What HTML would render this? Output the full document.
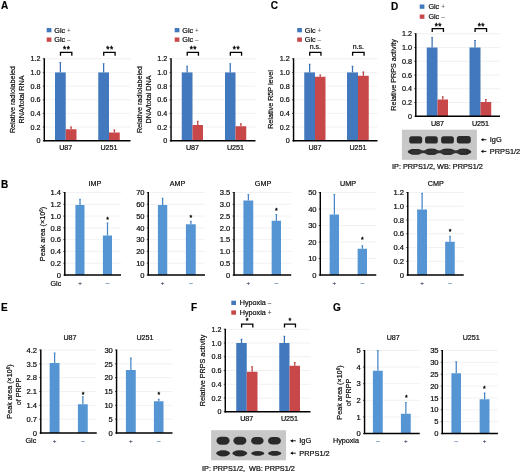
<!DOCTYPE html>
<html><head><meta charset="utf-8"><title>Figure</title>
<style>
html,body{margin:0;padding:0;background:#fff;}
svg{display:block;font-family:"Liberation Sans",sans-serif;}
</style></head><body>
<svg width="520" height="473" viewBox="0 0 520 473">
<defs><filter id="soft" x="0" y="0" width="100%" height="100%"><feGaussianBlur stdDeviation="0.32"/></filter><filter id="bl" x="-5%" y="-20%" width="110%" height="140%"><feGaussianBlur stdDeviation="0.55"/></filter></defs>
<rect width="520" height="473" fill="#fff"/>
<g filter="url(#soft)">
<text x="1" y="9.3" font-size="10" text-anchor="start" font-weight="bold" fill="#000" stroke="#000" stroke-width="0.18">A</text>
<text x="270.8" y="9.3" font-size="10" text-anchor="start" font-weight="bold" fill="#000" stroke="#000" stroke-width="0.18">C</text>
<text x="391" y="9.8" font-size="10" text-anchor="start" font-weight="bold" fill="#000" stroke="#000" stroke-width="0.18">D</text>
<text x="1" y="187.6" font-size="10" text-anchor="start" font-weight="bold" fill="#000" stroke="#000" stroke-width="0.18">B</text>
<text x="1" y="311.4" font-size="10" text-anchor="start" font-weight="bold" fill="#000" stroke="#000" stroke-width="0.18">E</text>
<text x="191" y="310.8" font-size="10" text-anchor="start" font-weight="bold" fill="#000" stroke="#000" stroke-width="0.18">F</text>
<text x="333" y="311.2" font-size="10" text-anchor="start" font-weight="bold" fill="#000" stroke="#000" stroke-width="0.18">G</text>
<rect x="46.70" y="28.00" width="4.70" height="4.30" fill="#4279be"/>
<rect x="46.70" y="37.50" width="4.70" height="4.30" fill="#c8474a"/>
<text x="54.3" y="32.6" font-size="7.2" text-anchor="start" font-weight="normal" fill="#0a0a0a" stroke="#0a0a0a" stroke-width="0.18">Glc <tspan fill="#555" stroke="none" font-size="6.4">+</tspan></text>
<text x="54.3" y="42.1" font-size="7.2" text-anchor="start" font-weight="normal" fill="#0a0a0a" stroke="#0a0a0a" stroke-width="0.18">Glc <tspan fill="#555" stroke="none" font-size="6.4">–</tspan></text>
<line x1="42.80" y1="140.75" x2="44.00" y2="140.75" stroke="#000" stroke-width="0.7"/>
<text x="40.6" y="143.3" font-size="7.2" text-anchor="end" font-weight="normal" fill="#0a0a0a" stroke="#0a0a0a" stroke-width="0.18">0</text>
<line x1="44.00" y1="127.08" x2="130.50" y2="127.08" stroke="#ededed" stroke-width="0.8"/>
<line x1="42.80" y1="127.08" x2="44.00" y2="127.08" stroke="#000" stroke-width="0.7"/>
<text x="40.6" y="129.63333333333333" font-size="7.2" text-anchor="end" font-weight="normal" fill="#0a0a0a" stroke="#0a0a0a" stroke-width="0.18">0.2</text>
<line x1="44.00" y1="113.42" x2="130.50" y2="113.42" stroke="#ededed" stroke-width="0.8"/>
<line x1="42.80" y1="113.42" x2="44.00" y2="113.42" stroke="#000" stroke-width="0.7"/>
<text x="40.6" y="115.96666666666667" font-size="7.2" text-anchor="end" font-weight="normal" fill="#0a0a0a" stroke="#0a0a0a" stroke-width="0.18">0.4</text>
<line x1="44.00" y1="99.75" x2="130.50" y2="99.75" stroke="#ededed" stroke-width="0.8"/>
<line x1="42.80" y1="99.75" x2="44.00" y2="99.75" stroke="#000" stroke-width="0.7"/>
<text x="40.6" y="102.3" font-size="7.2" text-anchor="end" font-weight="normal" fill="#0a0a0a" stroke="#0a0a0a" stroke-width="0.18">0.6</text>
<line x1="44.00" y1="86.08" x2="130.50" y2="86.08" stroke="#ededed" stroke-width="0.8"/>
<line x1="42.80" y1="86.08" x2="44.00" y2="86.08" stroke="#000" stroke-width="0.7"/>
<text x="40.6" y="88.63333333333334" font-size="7.2" text-anchor="end" font-weight="normal" fill="#0a0a0a" stroke="#0a0a0a" stroke-width="0.18">0.8</text>
<line x1="44.00" y1="72.42" x2="130.50" y2="72.42" stroke="#ededed" stroke-width="0.8"/>
<line x1="42.80" y1="72.42" x2="44.00" y2="72.42" stroke="#000" stroke-width="0.7"/>
<text x="40.6" y="74.96666666666667" font-size="7.2" text-anchor="end" font-weight="normal" fill="#0a0a0a" stroke="#0a0a0a" stroke-width="0.18">1.0</text>
<line x1="44.00" y1="58.75" x2="130.50" y2="58.75" stroke="#ededed" stroke-width="0.8"/>
<line x1="42.80" y1="58.75" x2="44.00" y2="58.75" stroke="#000" stroke-width="0.7"/>
<text x="40.6" y="61.3" font-size="7.2" text-anchor="end" font-weight="normal" fill="#0a0a0a" stroke="#0a0a0a" stroke-width="0.18">1.2</text>
<line x1="60.38" y1="72.42" x2="60.38" y2="62.20" stroke="#3a6fb4" stroke-width="1.25"/>
<line x1="59.48" y1="62.50" x2="61.27" y2="62.50" stroke="#3a6fb4" stroke-width="0.8"/>
<line x1="71.12" y1="129.25" x2="71.12" y2="126.70" stroke="#b93c40" stroke-width="1.25"/>
<line x1="70.22" y1="127.00" x2="72.03" y2="127.00" stroke="#b93c40" stroke-width="0.8"/>
<rect x="55.00" y="72.42" width="10.75" height="68.33" fill="#4279be"/>
<rect x="65.75" y="129.25" width="10.75" height="11.50" fill="#c8474a"/>
<path d="M60.48 55.70V52.40H71.83V55.70" fill="none" stroke="#000" stroke-width="1.3"/>
<text x="66.65" y="52.3" font-size="8.2" text-anchor="middle" font-weight="normal" fill="#000" stroke="#000" stroke-width="0.35" letter-spacing="0.4">**</text>
<text x="65.75" y="150.2" font-size="7.2" text-anchor="middle" font-weight="normal" fill="#0a0a0a" stroke="#0a0a0a" stroke-width="0.18">U87</text>
<line x1="103.62" y1="72.42" x2="103.62" y2="63.45" stroke="#3a6fb4" stroke-width="1.25"/>
<line x1="102.72" y1="63.75" x2="104.53" y2="63.75" stroke="#3a6fb4" stroke-width="0.8"/>
<line x1="114.38" y1="132.50" x2="114.38" y2="129.70" stroke="#b93c40" stroke-width="1.25"/>
<line x1="113.47" y1="130.00" x2="115.28" y2="130.00" stroke="#b93c40" stroke-width="0.8"/>
<rect x="98.25" y="72.42" width="10.75" height="68.33" fill="#4279be"/>
<rect x="109.00" y="132.50" width="10.75" height="8.25" fill="#c8474a"/>
<path d="M103.72 55.70V52.40H115.08V55.70" fill="none" stroke="#000" stroke-width="1.3"/>
<text x="109.9" y="52.3" font-size="8.2" text-anchor="middle" font-weight="normal" fill="#000" stroke="#000" stroke-width="0.35" letter-spacing="0.4">**</text>
<text x="109" y="150.2" font-size="7.2" text-anchor="middle" font-weight="normal" fill="#0a0a0a" stroke="#0a0a0a" stroke-width="0.18">U251</text>
<line x1="44.30" y1="58.25" x2="44.30" y2="141.45" stroke="#000" stroke-width="1.45"/>
<line x1="43.60" y1="140.75" x2="130.50" y2="140.75" stroke="#000" stroke-width="1.4"/>
<text x="15.1" y="99.5" font-size="7.2" text-anchor="middle" font-weight="normal" fill="#0a0a0a" stroke="#0a0a0a" stroke-width="0.18" transform="rotate(-90 15.1 99.5)">Relative radiolabeled</text>
<text x="24.0" y="99.5" font-size="7.2" text-anchor="middle" font-weight="normal" fill="#0a0a0a" stroke="#0a0a0a" stroke-width="0.18" transform="rotate(-90 24.0 99.5)">RNA/total RNA</text>
<rect x="174.70" y="28.00" width="4.70" height="4.30" fill="#4279be"/>
<rect x="174.70" y="37.50" width="4.70" height="4.30" fill="#c8474a"/>
<text x="182.3" y="32.6" font-size="7.2" text-anchor="start" font-weight="normal" fill="#0a0a0a" stroke="#0a0a0a" stroke-width="0.18">Glc <tspan fill="#555" stroke="none" font-size="6.4">+</tspan></text>
<text x="182.3" y="42.1" font-size="7.2" text-anchor="start" font-weight="normal" fill="#0a0a0a" stroke="#0a0a0a" stroke-width="0.18">Glc <tspan fill="#555" stroke="none" font-size="6.4">–</tspan></text>
<line x1="169.55" y1="140.75" x2="170.75" y2="140.75" stroke="#000" stroke-width="0.7"/>
<text x="167.35" y="143.3" font-size="7.2" text-anchor="end" font-weight="normal" fill="#0a0a0a" stroke="#0a0a0a" stroke-width="0.18">0</text>
<line x1="170.75" y1="127.08" x2="255.50" y2="127.08" stroke="#ededed" stroke-width="0.8"/>
<line x1="169.55" y1="127.08" x2="170.75" y2="127.08" stroke="#000" stroke-width="0.7"/>
<text x="167.35" y="129.63333333333333" font-size="7.2" text-anchor="end" font-weight="normal" fill="#0a0a0a" stroke="#0a0a0a" stroke-width="0.18">0.2</text>
<line x1="170.75" y1="113.42" x2="255.50" y2="113.42" stroke="#ededed" stroke-width="0.8"/>
<line x1="169.55" y1="113.42" x2="170.75" y2="113.42" stroke="#000" stroke-width="0.7"/>
<text x="167.35" y="115.96666666666667" font-size="7.2" text-anchor="end" font-weight="normal" fill="#0a0a0a" stroke="#0a0a0a" stroke-width="0.18">0.4</text>
<line x1="170.75" y1="99.75" x2="255.50" y2="99.75" stroke="#ededed" stroke-width="0.8"/>
<line x1="169.55" y1="99.75" x2="170.75" y2="99.75" stroke="#000" stroke-width="0.7"/>
<text x="167.35" y="102.3" font-size="7.2" text-anchor="end" font-weight="normal" fill="#0a0a0a" stroke="#0a0a0a" stroke-width="0.18">0.6</text>
<line x1="170.75" y1="86.08" x2="255.50" y2="86.08" stroke="#ededed" stroke-width="0.8"/>
<line x1="169.55" y1="86.08" x2="170.75" y2="86.08" stroke="#000" stroke-width="0.7"/>
<text x="167.35" y="88.63333333333334" font-size="7.2" text-anchor="end" font-weight="normal" fill="#0a0a0a" stroke="#0a0a0a" stroke-width="0.18">0.8</text>
<line x1="170.75" y1="72.42" x2="255.50" y2="72.42" stroke="#ededed" stroke-width="0.8"/>
<line x1="169.55" y1="72.42" x2="170.75" y2="72.42" stroke="#000" stroke-width="0.7"/>
<text x="167.35" y="74.96666666666667" font-size="7.2" text-anchor="end" font-weight="normal" fill="#0a0a0a" stroke="#0a0a0a" stroke-width="0.18">1.0</text>
<line x1="170.75" y1="58.75" x2="255.50" y2="58.75" stroke="#ededed" stroke-width="0.8"/>
<line x1="169.55" y1="58.75" x2="170.75" y2="58.75" stroke="#000" stroke-width="0.7"/>
<text x="167.35" y="61.3" font-size="7.2" text-anchor="end" font-weight="normal" fill="#0a0a0a" stroke="#0a0a0a" stroke-width="0.18">1.2</text>
<line x1="187.12" y1="72.42" x2="187.12" y2="65.95" stroke="#3a6fb4" stroke-width="1.25"/>
<line x1="186.22" y1="66.25" x2="188.03" y2="66.25" stroke="#3a6fb4" stroke-width="0.8"/>
<line x1="197.75" y1="125.00" x2="197.75" y2="120.95" stroke="#b93c40" stroke-width="1.25"/>
<line x1="196.85" y1="121.25" x2="198.65" y2="121.25" stroke="#b93c40" stroke-width="0.8"/>
<rect x="181.75" y="72.42" width="10.75" height="68.33" fill="#4279be"/>
<rect x="192.50" y="125.00" width="10.50" height="15.75" fill="#c8474a"/>
<path d="M187.22 55.70V52.40H198.45V55.70" fill="none" stroke="#000" stroke-width="1.3"/>
<text x="193.33749999999998" y="52.3" font-size="8.2" text-anchor="middle" font-weight="normal" fill="#000" stroke="#000" stroke-width="0.35" letter-spacing="0.4">**</text>
<text x="192.5" y="150.2" font-size="7.2" text-anchor="middle" font-weight="normal" fill="#0a0a0a" stroke="#0a0a0a" stroke-width="0.18">U87</text>
<line x1="230.25" y1="72.42" x2="230.25" y2="63.45" stroke="#3a6fb4" stroke-width="1.25"/>
<line x1="229.35" y1="63.75" x2="231.15" y2="63.75" stroke="#3a6fb4" stroke-width="0.8"/>
<line x1="240.88" y1="126.25" x2="240.88" y2="123.45" stroke="#b93c40" stroke-width="1.25"/>
<line x1="239.97" y1="123.75" x2="241.78" y2="123.75" stroke="#b93c40" stroke-width="0.8"/>
<rect x="225.00" y="72.42" width="10.50" height="68.33" fill="#4279be"/>
<rect x="235.50" y="126.25" width="10.75" height="14.50" fill="#c8474a"/>
<path d="M230.35 55.70V52.40H241.57V55.70" fill="none" stroke="#000" stroke-width="1.3"/>
<text x="236.46249999999998" y="52.3" font-size="8.2" text-anchor="middle" font-weight="normal" fill="#000" stroke="#000" stroke-width="0.35" letter-spacing="0.4">**</text>
<text x="235.5" y="150.2" font-size="7.2" text-anchor="middle" font-weight="normal" fill="#0a0a0a" stroke="#0a0a0a" stroke-width="0.18">U251</text>
<line x1="171.05" y1="58.25" x2="171.05" y2="141.45" stroke="#000" stroke-width="1.45"/>
<line x1="170.35" y1="140.75" x2="255.50" y2="140.75" stroke="#000" stroke-width="1.4"/>
<text x="142.2" y="99.5" font-size="7.2" text-anchor="middle" font-weight="normal" fill="#0a0a0a" stroke="#0a0a0a" stroke-width="0.18" transform="rotate(-90 142.2 99.5)">Relative radiolabeled</text>
<text x="151.2" y="99.5" font-size="7.2" text-anchor="middle" font-weight="normal" fill="#0a0a0a" stroke="#0a0a0a" stroke-width="0.18" transform="rotate(-90 151.2 99.5)">DNA/total DNA</text>
<rect x="297.20" y="28.00" width="4.70" height="4.30" fill="#4279be"/>
<rect x="297.20" y="37.50" width="4.70" height="4.30" fill="#c8474a"/>
<text x="304.8" y="32.6" font-size="7.2" text-anchor="start" font-weight="normal" fill="#0a0a0a" stroke="#0a0a0a" stroke-width="0.18">Glc <tspan fill="#555" stroke="none" font-size="6.4">+</tspan></text>
<text x="304.8" y="42.1" font-size="7.2" text-anchor="start" font-weight="normal" fill="#0a0a0a" stroke="#0a0a0a" stroke-width="0.18">Glc <tspan fill="#555" stroke="none" font-size="6.4">–</tspan></text>
<line x1="292.05" y1="140.75" x2="293.25" y2="140.75" stroke="#000" stroke-width="0.7"/>
<text x="289.85" y="143.3" font-size="7.2" text-anchor="end" font-weight="normal" fill="#0a0a0a" stroke="#0a0a0a" stroke-width="0.18">0</text>
<line x1="293.25" y1="127.08" x2="377.50" y2="127.08" stroke="#ededed" stroke-width="0.8"/>
<line x1="292.05" y1="127.08" x2="293.25" y2="127.08" stroke="#000" stroke-width="0.7"/>
<text x="289.85" y="129.63333333333333" font-size="7.2" text-anchor="end" font-weight="normal" fill="#0a0a0a" stroke="#0a0a0a" stroke-width="0.18">0.2</text>
<line x1="293.25" y1="113.42" x2="377.50" y2="113.42" stroke="#ededed" stroke-width="0.8"/>
<line x1="292.05" y1="113.42" x2="293.25" y2="113.42" stroke="#000" stroke-width="0.7"/>
<text x="289.85" y="115.96666666666667" font-size="7.2" text-anchor="end" font-weight="normal" fill="#0a0a0a" stroke="#0a0a0a" stroke-width="0.18">0.4</text>
<line x1="293.25" y1="99.75" x2="377.50" y2="99.75" stroke="#ededed" stroke-width="0.8"/>
<line x1="292.05" y1="99.75" x2="293.25" y2="99.75" stroke="#000" stroke-width="0.7"/>
<text x="289.85" y="102.3" font-size="7.2" text-anchor="end" font-weight="normal" fill="#0a0a0a" stroke="#0a0a0a" stroke-width="0.18">0.6</text>
<line x1="293.25" y1="86.08" x2="377.50" y2="86.08" stroke="#ededed" stroke-width="0.8"/>
<line x1="292.05" y1="86.08" x2="293.25" y2="86.08" stroke="#000" stroke-width="0.7"/>
<text x="289.85" y="88.63333333333334" font-size="7.2" text-anchor="end" font-weight="normal" fill="#0a0a0a" stroke="#0a0a0a" stroke-width="0.18">0.8</text>
<line x1="293.25" y1="72.42" x2="377.50" y2="72.42" stroke="#ededed" stroke-width="0.8"/>
<line x1="292.05" y1="72.42" x2="293.25" y2="72.42" stroke="#000" stroke-width="0.7"/>
<text x="289.85" y="74.96666666666667" font-size="7.2" text-anchor="end" font-weight="normal" fill="#0a0a0a" stroke="#0a0a0a" stroke-width="0.18">1.0</text>
<line x1="293.25" y1="58.75" x2="377.50" y2="58.75" stroke="#ededed" stroke-width="0.8"/>
<line x1="292.05" y1="58.75" x2="293.25" y2="58.75" stroke="#000" stroke-width="0.7"/>
<text x="289.85" y="61.3" font-size="7.2" text-anchor="end" font-weight="normal" fill="#0a0a0a" stroke="#0a0a0a" stroke-width="0.18">1.2</text>
<line x1="309.62" y1="72.42" x2="309.62" y2="63.95" stroke="#3a6fb4" stroke-width="1.25"/>
<line x1="308.73" y1="64.25" x2="310.52" y2="64.25" stroke="#3a6fb4" stroke-width="0.8"/>
<line x1="320.25" y1="76.75" x2="320.25" y2="74.70" stroke="#b93c40" stroke-width="1.25"/>
<line x1="319.35" y1="75.00" x2="321.15" y2="75.00" stroke="#b93c40" stroke-width="0.8"/>
<rect x="304.25" y="72.42" width="10.75" height="68.33" fill="#4279be"/>
<rect x="315.00" y="76.75" width="10.50" height="64.00" fill="#c8474a"/>
<path d="M309.73 55.70V52.40H320.95V55.70" fill="none" stroke="#000" stroke-width="1.3"/>
<text x="315.3375" y="49.2" font-size="7" text-anchor="middle" font-weight="normal" fill="#000" stroke="#000" stroke-width="0.18">n.s.</text>
<text x="315" y="150.2" font-size="7.2" text-anchor="middle" font-weight="normal" fill="#0a0a0a" stroke="#0a0a0a" stroke-width="0.18">U87</text>
<line x1="352.50" y1="72.42" x2="352.50" y2="65.95" stroke="#3a6fb4" stroke-width="1.25"/>
<line x1="351.60" y1="66.25" x2="353.40" y2="66.25" stroke="#3a6fb4" stroke-width="0.8"/>
<line x1="363.38" y1="75.75" x2="363.38" y2="71.70" stroke="#b93c40" stroke-width="1.25"/>
<line x1="362.48" y1="72.00" x2="364.27" y2="72.00" stroke="#b93c40" stroke-width="0.8"/>
<rect x="347.00" y="72.42" width="11.00" height="68.33" fill="#4279be"/>
<rect x="358.00" y="75.75" width="10.75" height="65.00" fill="#c8474a"/>
<path d="M352.60 55.70V52.40H364.07V55.70" fill="none" stroke="#000" stroke-width="1.3"/>
<text x="358.3375" y="49.2" font-size="7" text-anchor="middle" font-weight="normal" fill="#000" stroke="#000" stroke-width="0.18">n.s.</text>
<text x="358" y="150.2" font-size="7.2" text-anchor="middle" font-weight="normal" fill="#0a0a0a" stroke="#0a0a0a" stroke-width="0.18">U251</text>
<line x1="293.55" y1="58.25" x2="293.55" y2="141.45" stroke="#000" stroke-width="1.45"/>
<line x1="292.85" y1="140.75" x2="377.50" y2="140.75" stroke="#000" stroke-width="1.4"/>
<text x="273.3" y="99.5" font-size="7.2" text-anchor="middle" font-weight="normal" fill="#0a0a0a" stroke="#0a0a0a" stroke-width="0.18" transform="rotate(-90 273.3 99.5)">Relative R5P level</text>
<rect x="419.70" y="4.50" width="4.70" height="4.30" fill="#4279be"/>
<rect x="419.70" y="14.50" width="4.70" height="4.30" fill="#c8474a"/>
<text x="428.4" y="9.1" font-size="7.2" text-anchor="start" font-weight="normal" fill="#0a0a0a" stroke="#0a0a0a" stroke-width="0.18">Glc <tspan fill="#555" stroke="none" font-size="6.4">+</tspan></text>
<text x="428.4" y="19.1" font-size="7.2" text-anchor="start" font-weight="normal" fill="#0a0a0a" stroke="#0a0a0a" stroke-width="0.18">Glc <tspan fill="#555" stroke="none" font-size="6.4">–</tspan></text>
<line x1="414.30" y1="116.25" x2="415.50" y2="116.25" stroke="#000" stroke-width="0.7"/>
<text x="412.1" y="118.8" font-size="7.2" text-anchor="end" font-weight="normal" fill="#0a0a0a" stroke="#0a0a0a" stroke-width="0.18">0</text>
<line x1="415.50" y1="102.50" x2="500.00" y2="102.50" stroke="#ededed" stroke-width="0.8"/>
<line x1="414.30" y1="102.50" x2="415.50" y2="102.50" stroke="#000" stroke-width="0.7"/>
<text x="412.1" y="105.05" font-size="7.2" text-anchor="end" font-weight="normal" fill="#0a0a0a" stroke="#0a0a0a" stroke-width="0.18">0.2</text>
<line x1="415.50" y1="88.75" x2="500.00" y2="88.75" stroke="#ededed" stroke-width="0.8"/>
<line x1="414.30" y1="88.75" x2="415.50" y2="88.75" stroke="#000" stroke-width="0.7"/>
<text x="412.1" y="91.3" font-size="7.2" text-anchor="end" font-weight="normal" fill="#0a0a0a" stroke="#0a0a0a" stroke-width="0.18">0.4</text>
<line x1="415.50" y1="75.00" x2="500.00" y2="75.00" stroke="#ededed" stroke-width="0.8"/>
<line x1="414.30" y1="75.00" x2="415.50" y2="75.00" stroke="#000" stroke-width="0.7"/>
<text x="412.1" y="77.55" font-size="7.2" text-anchor="end" font-weight="normal" fill="#0a0a0a" stroke="#0a0a0a" stroke-width="0.18">0.6</text>
<line x1="415.50" y1="61.25" x2="500.00" y2="61.25" stroke="#ededed" stroke-width="0.8"/>
<line x1="414.30" y1="61.25" x2="415.50" y2="61.25" stroke="#000" stroke-width="0.7"/>
<text x="412.1" y="63.8" font-size="7.2" text-anchor="end" font-weight="normal" fill="#0a0a0a" stroke="#0a0a0a" stroke-width="0.18">0.8</text>
<line x1="415.50" y1="47.50" x2="500.00" y2="47.50" stroke="#ededed" stroke-width="0.8"/>
<line x1="414.30" y1="47.50" x2="415.50" y2="47.50" stroke="#000" stroke-width="0.7"/>
<text x="412.1" y="50.05" font-size="7.2" text-anchor="end" font-weight="normal" fill="#0a0a0a" stroke="#0a0a0a" stroke-width="0.18">1.0</text>
<line x1="415.50" y1="33.75" x2="500.00" y2="33.75" stroke="#ededed" stroke-width="0.8"/>
<line x1="414.30" y1="33.75" x2="415.50" y2="33.75" stroke="#000" stroke-width="0.7"/>
<text x="412.1" y="36.3" font-size="7.2" text-anchor="end" font-weight="normal" fill="#0a0a0a" stroke="#0a0a0a" stroke-width="0.18">1.2</text>
<line x1="432.12" y1="47.50" x2="432.12" y2="37.20" stroke="#3a6fb4" stroke-width="1.25"/>
<line x1="431.23" y1="37.50" x2="433.02" y2="37.50" stroke="#3a6fb4" stroke-width="0.8"/>
<line x1="442.75" y1="99.50" x2="442.75" y2="96.45" stroke="#b93c40" stroke-width="1.25"/>
<line x1="441.85" y1="96.75" x2="443.65" y2="96.75" stroke="#b93c40" stroke-width="0.8"/>
<rect x="426.75" y="47.50" width="10.75" height="68.75" fill="#4279be"/>
<rect x="437.50" y="99.50" width="10.50" height="16.75" fill="#c8474a"/>
<path d="M432.23 31.90V28.60H443.45V31.90" fill="none" stroke="#000" stroke-width="1.3"/>
<text x="438.3375" y="28.5" font-size="8.2" text-anchor="middle" font-weight="normal" fill="#000" stroke="#000" stroke-width="0.35" letter-spacing="0.4">**</text>
<text x="437.5" y="126" font-size="7.2" text-anchor="middle" font-weight="normal" fill="#0a0a0a" stroke="#0a0a0a" stroke-width="0.18">U87</text>
<line x1="475.00" y1="47.50" x2="475.00" y2="40.20" stroke="#3a6fb4" stroke-width="1.25"/>
<line x1="474.10" y1="40.50" x2="475.90" y2="40.50" stroke="#3a6fb4" stroke-width="0.8"/>
<line x1="485.88" y1="102.00" x2="485.88" y2="99.20" stroke="#b93c40" stroke-width="1.25"/>
<line x1="484.98" y1="99.50" x2="486.77" y2="99.50" stroke="#b93c40" stroke-width="0.8"/>
<rect x="469.50" y="47.50" width="11.00" height="68.75" fill="#4279be"/>
<rect x="480.50" y="102.00" width="10.75" height="14.25" fill="#c8474a"/>
<path d="M475.10 31.90V28.60H486.57V31.90" fill="none" stroke="#000" stroke-width="1.3"/>
<text x="481.3375" y="28.5" font-size="8.2" text-anchor="middle" font-weight="normal" fill="#000" stroke="#000" stroke-width="0.35" letter-spacing="0.4">**</text>
<text x="480.5" y="126" font-size="7.2" text-anchor="middle" font-weight="normal" fill="#0a0a0a" stroke="#0a0a0a" stroke-width="0.18">U251</text>
<line x1="415.80" y1="33.25" x2="415.80" y2="116.95" stroke="#000" stroke-width="1.45"/>
<line x1="415.10" y1="116.25" x2="500.00" y2="116.25" stroke="#000" stroke-width="1.4"/>
<text x="396" y="75" font-size="7.2" text-anchor="middle" font-weight="normal" fill="#0a0a0a" stroke="#0a0a0a" stroke-width="0.18" transform="rotate(-90 396 75)">Relative PRPS activity</text>
<rect x="401.90" y="129.70" width="75.00" height="30.10" fill="#c8c8c8"/>
<g filter="url(#bl)">
<rect x="409.20" y="136.20" width="13.00" height="7.40" rx="2.6" ry="2.60" fill="#2b2b2b"/>
<rect x="425.00" y="136.20" width="12.80" height="7.40" rx="2.6" ry="2.60" fill="#2b2b2b"/>
<rect x="441.10" y="136.20" width="12.80" height="7.40" rx="2.6" ry="2.60" fill="#2b2b2b"/>
<rect x="456.80" y="136.00" width="14.00" height="7.40" rx="2.6" ry="2.60" fill="#2b2b2b"/>
<ellipse cx="415.30" cy="151.75" rx="7.60" ry="2.85" fill="#2b2b2b"/>
<rect x="410.20" y="148.90" width="10.20" height="5.70" rx="2" ry="2" fill="#2b2b2b"/>
<ellipse cx="431.30" cy="151.75" rx="7.70" ry="2.95" fill="#2b2b2b"/>
<rect x="426.10" y="148.80" width="10.40" height="5.90" rx="2" ry="2" fill="#2b2b2b"/>
<ellipse cx="447.50" cy="151.75" rx="7.70" ry="3.05" fill="#2b2b2b"/>
<rect x="442.30" y="148.70" width="10.40" height="6.10" rx="2" ry="2" fill="#2b2b2b"/>
<ellipse cx="463.65" cy="151.75" rx="7.65" ry="2.95" fill="#2b2b2b"/>
<rect x="458.50" y="148.80" width="10.30" height="5.90" rx="2" ry="2" fill="#2b2b2b"/>
<rect x="412.00" y="150.40" width="55.00" height="2.80" fill="#333"/>
</g>
<line x1="482.30" y1="139.70" x2="486.40" y2="139.70" stroke="#000" stroke-width="0.9"/>
<path d="M480.80 139.70l2.6 -1.6v3.2z" fill="#000"/>
<text x="489.8" y="142.29999999999998" font-size="7.4" text-anchor="start" font-weight="normal" fill="#0a0a0a" stroke="#0a0a0a" stroke-width="0.18">IgG</text>
<line x1="482.30" y1="151.40" x2="486.40" y2="151.40" stroke="#000" stroke-width="0.9"/>
<path d="M480.80 151.40l2.6 -1.6v3.2z" fill="#000"/>
<text x="489.8" y="154.0" font-size="7.4" text-anchor="start" font-weight="normal" fill="#0a0a0a" stroke="#0a0a0a" stroke-width="0.18">PRPS1/2</text>
<text x="392" y="169.3" font-size="7.3" text-anchor="start" font-weight="normal" fill="#0a0a0a" stroke="#0a0a0a" stroke-width="0.18">IP: PRPS1/2, WB: PRPS1/2</text>
<line x1="63.30" y1="275.00" x2="64.50" y2="275.00" stroke="#000" stroke-width="0.7"/>
<text x="61.1" y="277.69166666666666" font-size="7.6" text-anchor="end" font-weight="normal" fill="#0a0a0a" stroke="#0a0a0a" stroke-width="0.18">0</text>
<line x1="64.50" y1="263.21" x2="121.00" y2="263.21" stroke="#ededed" stroke-width="0.8"/>
<line x1="63.30" y1="263.21" x2="64.50" y2="263.21" stroke="#000" stroke-width="0.7"/>
<text x="61.1" y="265.9059523809524" font-size="7.6" text-anchor="end" font-weight="normal" fill="#0a0a0a" stroke="#0a0a0a" stroke-width="0.18">0.2</text>
<line x1="64.50" y1="251.43" x2="121.00" y2="251.43" stroke="#ededed" stroke-width="0.8"/>
<line x1="63.30" y1="251.43" x2="64.50" y2="251.43" stroke="#000" stroke-width="0.7"/>
<text x="61.1" y="254.12023809523808" font-size="7.6" text-anchor="end" font-weight="normal" fill="#0a0a0a" stroke="#0a0a0a" stroke-width="0.18">0.4</text>
<line x1="64.50" y1="239.64" x2="121.00" y2="239.64" stroke="#ededed" stroke-width="0.8"/>
<line x1="63.30" y1="239.64" x2="64.50" y2="239.64" stroke="#000" stroke-width="0.7"/>
<text x="61.1" y="242.3345238095238" font-size="7.6" text-anchor="end" font-weight="normal" fill="#0a0a0a" stroke="#0a0a0a" stroke-width="0.18">0.6</text>
<line x1="64.50" y1="227.86" x2="121.00" y2="227.86" stroke="#ededed" stroke-width="0.8"/>
<line x1="63.30" y1="227.86" x2="64.50" y2="227.86" stroke="#000" stroke-width="0.7"/>
<text x="61.1" y="230.54880952380952" font-size="7.6" text-anchor="end" font-weight="normal" fill="#0a0a0a" stroke="#0a0a0a" stroke-width="0.18">0.8</text>
<line x1="64.50" y1="216.07" x2="121.00" y2="216.07" stroke="#ededed" stroke-width="0.8"/>
<line x1="63.30" y1="216.07" x2="64.50" y2="216.07" stroke="#000" stroke-width="0.7"/>
<text x="61.1" y="218.76309523809522" font-size="7.6" text-anchor="end" font-weight="normal" fill="#0a0a0a" stroke="#0a0a0a" stroke-width="0.18">1.0</text>
<line x1="64.50" y1="204.29" x2="121.00" y2="204.29" stroke="#ededed" stroke-width="0.8"/>
<line x1="63.30" y1="204.29" x2="64.50" y2="204.29" stroke="#000" stroke-width="0.7"/>
<text x="61.1" y="206.97738095238094" font-size="7.6" text-anchor="end" font-weight="normal" fill="#0a0a0a" stroke="#0a0a0a" stroke-width="0.18">1.2</text>
<line x1="64.50" y1="192.50" x2="121.00" y2="192.50" stroke="#ededed" stroke-width="0.8"/>
<line x1="63.30" y1="192.50" x2="64.50" y2="192.50" stroke="#000" stroke-width="0.7"/>
<text x="61.1" y="195.19166666666666" font-size="7.6" text-anchor="end" font-weight="normal" fill="#0a0a0a" stroke="#0a0a0a" stroke-width="0.18">1.4</text>
<line x1="80.00" y1="205.00" x2="80.00" y2="198.95" stroke="#4685c6" stroke-width="1.25"/>
<line x1="79.10" y1="199.25" x2="80.90" y2="199.25" stroke="#4685c6" stroke-width="0.8"/>
<rect x="75.40" y="205.00" width="9.10" height="70.00" fill="#5595d3"/>
<line x1="107.50" y1="235.50" x2="107.50" y2="222.70" stroke="#4685c6" stroke-width="1.25"/>
<line x1="106.60" y1="223.00" x2="108.40" y2="223.00" stroke="#4685c6" stroke-width="0.8"/>
<rect x="102.90" y="235.50" width="9.10" height="39.50" fill="#5595d3"/>
<line x1="64.80" y1="192.00" x2="64.80" y2="275.70" stroke="#000" stroke-width="1.45"/>
<line x1="64.10" y1="275.00" x2="121.00" y2="275.00" stroke="#000" stroke-width="1.4"/>
<text x="95" y="185.8" font-size="7.2" text-anchor="middle" font-weight="normal" fill="#0a0a0a" stroke="#0a0a0a" stroke-width="0.18">IMP</text>
<text x="80.0" y="285.3" font-size="6.2" text-anchor="middle" font-weight="normal" fill="#4a566c" stroke="#4a566c" stroke-width="0.2">+</text>
<text x="107.5" y="285.3" font-size="6.2" text-anchor="middle" font-weight="normal" fill="#6485b2" stroke="#6485b2" stroke-width="0.2">–</text>
<text x="107.5" y="221.70000000000002" font-size="7" text-anchor="middle" font-weight="normal" fill="#000" stroke="#000" stroke-width="0.3">*</text>
<text x="50.5" y="285.6" font-size="7.2" text-anchor="start" font-weight="normal" fill="#0a0a0a" stroke="#0a0a0a" stroke-width="0.18">Glc</text>
<text x="45.3" y="234" font-size="7.2" text-anchor="middle" font-weight="normal" fill="#0a0a0a" stroke="#0a0a0a" stroke-width="0.18" transform="rotate(-90 45.3 234)">Peak area (×10<tspan font-size="4.5" dy="-2.6">6</tspan><tspan dy="2.6">)</tspan></text>
<line x1="146.80" y1="275.00" x2="148.00" y2="275.00" stroke="#000" stroke-width="0.7"/>
<text x="144.6" y="277.69166666666666" font-size="7.6" text-anchor="end" font-weight="normal" fill="#0a0a0a" stroke="#0a0a0a" stroke-width="0.18">0</text>
<line x1="148.00" y1="263.21" x2="205.00" y2="263.21" stroke="#ededed" stroke-width="0.8"/>
<line x1="146.80" y1="263.21" x2="148.00" y2="263.21" stroke="#000" stroke-width="0.7"/>
<text x="144.6" y="265.9059523809524" font-size="7.6" text-anchor="end" font-weight="normal" fill="#0a0a0a" stroke="#0a0a0a" stroke-width="0.18">10</text>
<line x1="148.00" y1="251.43" x2="205.00" y2="251.43" stroke="#ededed" stroke-width="0.8"/>
<line x1="146.80" y1="251.43" x2="148.00" y2="251.43" stroke="#000" stroke-width="0.7"/>
<text x="144.6" y="254.12023809523808" font-size="7.6" text-anchor="end" font-weight="normal" fill="#0a0a0a" stroke="#0a0a0a" stroke-width="0.18">20</text>
<line x1="148.00" y1="239.64" x2="205.00" y2="239.64" stroke="#ededed" stroke-width="0.8"/>
<line x1="146.80" y1="239.64" x2="148.00" y2="239.64" stroke="#000" stroke-width="0.7"/>
<text x="144.6" y="242.3345238095238" font-size="7.6" text-anchor="end" font-weight="normal" fill="#0a0a0a" stroke="#0a0a0a" stroke-width="0.18">30</text>
<line x1="148.00" y1="227.86" x2="205.00" y2="227.86" stroke="#ededed" stroke-width="0.8"/>
<line x1="146.80" y1="227.86" x2="148.00" y2="227.86" stroke="#000" stroke-width="0.7"/>
<text x="144.6" y="230.54880952380952" font-size="7.6" text-anchor="end" font-weight="normal" fill="#0a0a0a" stroke="#0a0a0a" stroke-width="0.18">40</text>
<line x1="148.00" y1="216.07" x2="205.00" y2="216.07" stroke="#ededed" stroke-width="0.8"/>
<line x1="146.80" y1="216.07" x2="148.00" y2="216.07" stroke="#000" stroke-width="0.7"/>
<text x="144.6" y="218.76309523809522" font-size="7.6" text-anchor="end" font-weight="normal" fill="#0a0a0a" stroke="#0a0a0a" stroke-width="0.18">50</text>
<line x1="148.00" y1="204.29" x2="205.00" y2="204.29" stroke="#ededed" stroke-width="0.8"/>
<line x1="146.80" y1="204.29" x2="148.00" y2="204.29" stroke="#000" stroke-width="0.7"/>
<text x="144.6" y="206.97738095238094" font-size="7.6" text-anchor="end" font-weight="normal" fill="#0a0a0a" stroke="#0a0a0a" stroke-width="0.18">60</text>
<line x1="148.00" y1="192.50" x2="205.00" y2="192.50" stroke="#ededed" stroke-width="0.8"/>
<line x1="146.80" y1="192.50" x2="148.00" y2="192.50" stroke="#000" stroke-width="0.7"/>
<text x="144.6" y="195.19166666666666" font-size="7.6" text-anchor="end" font-weight="normal" fill="#0a0a0a" stroke="#0a0a0a" stroke-width="0.18">70</text>
<line x1="162.62" y1="205.00" x2="162.62" y2="197.95" stroke="#4685c6" stroke-width="1.25"/>
<line x1="161.72" y1="198.25" x2="163.53" y2="198.25" stroke="#4685c6" stroke-width="0.8"/>
<rect x="157.90" y="205.00" width="9.35" height="70.00" fill="#5595d3"/>
<line x1="190.88" y1="224.25" x2="190.88" y2="220.95" stroke="#4685c6" stroke-width="1.25"/>
<line x1="189.97" y1="221.25" x2="191.78" y2="221.25" stroke="#4685c6" stroke-width="0.8"/>
<rect x="185.90" y="224.25" width="9.85" height="50.75" fill="#5595d3"/>
<line x1="148.30" y1="192.00" x2="148.30" y2="275.70" stroke="#000" stroke-width="1.45"/>
<line x1="147.60" y1="275.00" x2="205.00" y2="275.00" stroke="#000" stroke-width="1.4"/>
<text x="177.5" y="185.8" font-size="7.2" text-anchor="middle" font-weight="normal" fill="#0a0a0a" stroke="#0a0a0a" stroke-width="0.18">AMP</text>
<text x="162.625" y="285.3" font-size="6.2" text-anchor="middle" font-weight="normal" fill="#4a566c" stroke="#4a566c" stroke-width="0.2">+</text>
<text x="190.875" y="285.3" font-size="6.2" text-anchor="middle" font-weight="normal" fill="#6485b2" stroke="#6485b2" stroke-width="0.2">–</text>
<text x="190.75" y="220.4" font-size="7" text-anchor="middle" font-weight="normal" fill="#000" stroke="#000" stroke-width="0.3">*</text>
<line x1="232.55" y1="275.00" x2="233.75" y2="275.00" stroke="#000" stroke-width="0.7"/>
<text x="230.35" y="277.69166666666666" font-size="7.6" text-anchor="end" font-weight="normal" fill="#0a0a0a" stroke="#0a0a0a" stroke-width="0.18">0</text>
<line x1="233.75" y1="263.21" x2="291.25" y2="263.21" stroke="#ededed" stroke-width="0.8"/>
<line x1="232.55" y1="263.21" x2="233.75" y2="263.21" stroke="#000" stroke-width="0.7"/>
<text x="230.35" y="265.9059523809524" font-size="7.6" text-anchor="end" font-weight="normal" fill="#0a0a0a" stroke="#0a0a0a" stroke-width="0.18">0.5</text>
<line x1="233.75" y1="251.43" x2="291.25" y2="251.43" stroke="#ededed" stroke-width="0.8"/>
<line x1="232.55" y1="251.43" x2="233.75" y2="251.43" stroke="#000" stroke-width="0.7"/>
<text x="230.35" y="254.12023809523808" font-size="7.6" text-anchor="end" font-weight="normal" fill="#0a0a0a" stroke="#0a0a0a" stroke-width="0.18">1.0</text>
<line x1="233.75" y1="239.64" x2="291.25" y2="239.64" stroke="#ededed" stroke-width="0.8"/>
<line x1="232.55" y1="239.64" x2="233.75" y2="239.64" stroke="#000" stroke-width="0.7"/>
<text x="230.35" y="242.3345238095238" font-size="7.6" text-anchor="end" font-weight="normal" fill="#0a0a0a" stroke="#0a0a0a" stroke-width="0.18">1.5</text>
<line x1="233.75" y1="227.86" x2="291.25" y2="227.86" stroke="#ededed" stroke-width="0.8"/>
<line x1="232.55" y1="227.86" x2="233.75" y2="227.86" stroke="#000" stroke-width="0.7"/>
<text x="230.35" y="230.54880952380952" font-size="7.6" text-anchor="end" font-weight="normal" fill="#0a0a0a" stroke="#0a0a0a" stroke-width="0.18">2.0</text>
<line x1="233.75" y1="216.07" x2="291.25" y2="216.07" stroke="#ededed" stroke-width="0.8"/>
<line x1="232.55" y1="216.07" x2="233.75" y2="216.07" stroke="#000" stroke-width="0.7"/>
<text x="230.35" y="218.76309523809522" font-size="7.6" text-anchor="end" font-weight="normal" fill="#0a0a0a" stroke="#0a0a0a" stroke-width="0.18">2.5</text>
<line x1="233.75" y1="204.29" x2="291.25" y2="204.29" stroke="#ededed" stroke-width="0.8"/>
<line x1="232.55" y1="204.29" x2="233.75" y2="204.29" stroke="#000" stroke-width="0.7"/>
<text x="230.35" y="206.97738095238094" font-size="7.6" text-anchor="end" font-weight="normal" fill="#0a0a0a" stroke="#0a0a0a" stroke-width="0.18">3.0</text>
<line x1="233.75" y1="192.50" x2="291.25" y2="192.50" stroke="#ededed" stroke-width="0.8"/>
<line x1="232.55" y1="192.50" x2="233.75" y2="192.50" stroke="#000" stroke-width="0.7"/>
<text x="230.35" y="195.19166666666666" font-size="7.6" text-anchor="end" font-weight="normal" fill="#0a0a0a" stroke="#0a0a0a" stroke-width="0.18">3.5</text>
<line x1="248.38" y1="200.50" x2="248.38" y2="194.20" stroke="#4685c6" stroke-width="1.25"/>
<line x1="247.47" y1="194.50" x2="249.28" y2="194.50" stroke="#4685c6" stroke-width="0.8"/>
<rect x="243.40" y="200.50" width="9.85" height="74.50" fill="#5595d3"/>
<line x1="276.38" y1="220.75" x2="276.38" y2="214.20" stroke="#4685c6" stroke-width="1.25"/>
<line x1="275.48" y1="214.50" x2="277.27" y2="214.50" stroke="#4685c6" stroke-width="0.8"/>
<rect x="271.65" y="220.75" width="9.35" height="54.25" fill="#5595d3"/>
<line x1="234.05" y1="192.00" x2="234.05" y2="275.70" stroke="#000" stroke-width="1.45"/>
<line x1="233.35" y1="275.00" x2="291.25" y2="275.00" stroke="#000" stroke-width="1.4"/>
<text x="263" y="185.8" font-size="7.2" text-anchor="middle" font-weight="normal" fill="#0a0a0a" stroke="#0a0a0a" stroke-width="0.18">GMP</text>
<text x="248.375" y="285.3" font-size="6.2" text-anchor="middle" font-weight="normal" fill="#4a566c" stroke="#4a566c" stroke-width="0.2">+</text>
<text x="276.375" y="285.3" font-size="6.2" text-anchor="middle" font-weight="normal" fill="#6485b2" stroke="#6485b2" stroke-width="0.2">–</text>
<text x="276.4" y="212.9" font-size="7" text-anchor="middle" font-weight="normal" fill="#000" stroke="#000" stroke-width="0.3">*</text>
<line x1="318.80" y1="275.00" x2="320.00" y2="275.00" stroke="#000" stroke-width="0.7"/>
<text x="316.6" y="277.69166666666666" font-size="7.6" text-anchor="end" font-weight="normal" fill="#0a0a0a" stroke="#0a0a0a" stroke-width="0.18">0</text>
<line x1="320.00" y1="258.50" x2="376.25" y2="258.50" stroke="#ededed" stroke-width="0.8"/>
<line x1="318.80" y1="258.50" x2="320.00" y2="258.50" stroke="#000" stroke-width="0.7"/>
<text x="316.6" y="261.19166666666666" font-size="7.6" text-anchor="end" font-weight="normal" fill="#0a0a0a" stroke="#0a0a0a" stroke-width="0.18">10</text>
<line x1="320.00" y1="242.00" x2="376.25" y2="242.00" stroke="#ededed" stroke-width="0.8"/>
<line x1="318.80" y1="242.00" x2="320.00" y2="242.00" stroke="#000" stroke-width="0.7"/>
<text x="316.6" y="244.69166666666666" font-size="7.6" text-anchor="end" font-weight="normal" fill="#0a0a0a" stroke="#0a0a0a" stroke-width="0.18">20</text>
<line x1="320.00" y1="225.50" x2="376.25" y2="225.50" stroke="#ededed" stroke-width="0.8"/>
<line x1="318.80" y1="225.50" x2="320.00" y2="225.50" stroke="#000" stroke-width="0.7"/>
<text x="316.6" y="228.19166666666666" font-size="7.6" text-anchor="end" font-weight="normal" fill="#0a0a0a" stroke="#0a0a0a" stroke-width="0.18">30</text>
<line x1="320.00" y1="209.00" x2="376.25" y2="209.00" stroke="#ededed" stroke-width="0.8"/>
<line x1="318.80" y1="209.00" x2="320.00" y2="209.00" stroke="#000" stroke-width="0.7"/>
<text x="316.6" y="211.69166666666666" font-size="7.6" text-anchor="end" font-weight="normal" fill="#0a0a0a" stroke="#0a0a0a" stroke-width="0.18">40</text>
<line x1="320.00" y1="192.50" x2="376.25" y2="192.50" stroke="#ededed" stroke-width="0.8"/>
<line x1="318.80" y1="192.50" x2="320.00" y2="192.50" stroke="#000" stroke-width="0.7"/>
<text x="316.6" y="195.19166666666666" font-size="7.6" text-anchor="end" font-weight="normal" fill="#0a0a0a" stroke="#0a0a0a" stroke-width="0.18">50</text>
<line x1="334.38" y1="214.50" x2="334.38" y2="194.20" stroke="#4685c6" stroke-width="1.25"/>
<line x1="333.48" y1="194.50" x2="335.27" y2="194.50" stroke="#4685c6" stroke-width="0.8"/>
<rect x="329.65" y="214.50" width="9.35" height="60.50" fill="#5595d3"/>
<line x1="362.38" y1="248.75" x2="362.38" y2="245.45" stroke="#4685c6" stroke-width="1.25"/>
<line x1="361.48" y1="245.75" x2="363.27" y2="245.75" stroke="#4685c6" stroke-width="0.8"/>
<rect x="357.65" y="248.75" width="9.35" height="26.25" fill="#5595d3"/>
<line x1="320.30" y1="192.00" x2="320.30" y2="275.70" stroke="#000" stroke-width="1.45"/>
<line x1="319.60" y1="275.00" x2="376.25" y2="275.00" stroke="#000" stroke-width="1.4"/>
<text x="348" y="185.8" font-size="7.2" text-anchor="middle" font-weight="normal" fill="#0a0a0a" stroke="#0a0a0a" stroke-width="0.18">UMP</text>
<text x="334.375" y="285.3" font-size="6.2" text-anchor="middle" font-weight="normal" fill="#4a566c" stroke="#4a566c" stroke-width="0.2">+</text>
<text x="362.375" y="285.3" font-size="6.2" text-anchor="middle" font-weight="normal" fill="#6485b2" stroke="#6485b2" stroke-width="0.2">–</text>
<text x="362.4" y="242.4" font-size="7" text-anchor="middle" font-weight="normal" fill="#000" stroke="#000" stroke-width="0.3">*</text>
<line x1="406.30" y1="275.00" x2="407.50" y2="275.00" stroke="#000" stroke-width="0.7"/>
<text x="404.1" y="277.69166666666666" font-size="7.6" text-anchor="end" font-weight="normal" fill="#0a0a0a" stroke="#0a0a0a" stroke-width="0.18">0</text>
<line x1="407.50" y1="261.25" x2="463.75" y2="261.25" stroke="#ededed" stroke-width="0.8"/>
<line x1="406.30" y1="261.25" x2="407.50" y2="261.25" stroke="#000" stroke-width="0.7"/>
<text x="404.1" y="263.94166666666666" font-size="7.6" text-anchor="end" font-weight="normal" fill="#0a0a0a" stroke="#0a0a0a" stroke-width="0.18">0.2</text>
<line x1="407.50" y1="247.50" x2="463.75" y2="247.50" stroke="#ededed" stroke-width="0.8"/>
<line x1="406.30" y1="247.50" x2="407.50" y2="247.50" stroke="#000" stroke-width="0.7"/>
<text x="404.1" y="250.19166666666666" font-size="7.6" text-anchor="end" font-weight="normal" fill="#0a0a0a" stroke="#0a0a0a" stroke-width="0.18">0.4</text>
<line x1="407.50" y1="233.75" x2="463.75" y2="233.75" stroke="#ededed" stroke-width="0.8"/>
<line x1="406.30" y1="233.75" x2="407.50" y2="233.75" stroke="#000" stroke-width="0.7"/>
<text x="404.1" y="236.44166666666666" font-size="7.6" text-anchor="end" font-weight="normal" fill="#0a0a0a" stroke="#0a0a0a" stroke-width="0.18">0.6</text>
<line x1="407.50" y1="220.00" x2="463.75" y2="220.00" stroke="#ededed" stroke-width="0.8"/>
<line x1="406.30" y1="220.00" x2="407.50" y2="220.00" stroke="#000" stroke-width="0.7"/>
<text x="404.1" y="222.69166666666666" font-size="7.6" text-anchor="end" font-weight="normal" fill="#0a0a0a" stroke="#0a0a0a" stroke-width="0.18">0.8</text>
<line x1="407.50" y1="206.25" x2="463.75" y2="206.25" stroke="#ededed" stroke-width="0.8"/>
<line x1="406.30" y1="206.25" x2="407.50" y2="206.25" stroke="#000" stroke-width="0.7"/>
<text x="404.1" y="208.94166666666666" font-size="7.6" text-anchor="end" font-weight="normal" fill="#0a0a0a" stroke="#0a0a0a" stroke-width="0.18">1.0</text>
<line x1="407.50" y1="192.50" x2="463.75" y2="192.50" stroke="#ededed" stroke-width="0.8"/>
<line x1="406.30" y1="192.50" x2="407.50" y2="192.50" stroke="#000" stroke-width="0.7"/>
<text x="404.1" y="195.19166666666666" font-size="7.6" text-anchor="end" font-weight="normal" fill="#0a0a0a" stroke="#0a0a0a" stroke-width="0.18">1.2</text>
<line x1="422.12" y1="209.50" x2="422.12" y2="192.95" stroke="#4685c6" stroke-width="1.25"/>
<line x1="421.23" y1="193.25" x2="423.02" y2="193.25" stroke="#4685c6" stroke-width="0.8"/>
<rect x="417.15" y="209.50" width="9.85" height="65.50" fill="#5595d3"/>
<line x1="450.00" y1="241.75" x2="450.00" y2="235.95" stroke="#4685c6" stroke-width="1.25"/>
<line x1="449.10" y1="236.25" x2="450.90" y2="236.25" stroke="#4685c6" stroke-width="0.8"/>
<rect x="445.15" y="241.75" width="9.60" height="33.25" fill="#5595d3"/>
<line x1="407.80" y1="192.00" x2="407.80" y2="275.70" stroke="#000" stroke-width="1.45"/>
<line x1="407.10" y1="275.00" x2="463.75" y2="275.00" stroke="#000" stroke-width="1.4"/>
<text x="435.75" y="185.8" font-size="7.2" text-anchor="middle" font-weight="normal" fill="#0a0a0a" stroke="#0a0a0a" stroke-width="0.18">CMP</text>
<text x="422.125" y="285.3" font-size="6.2" text-anchor="middle" font-weight="normal" fill="#4a566c" stroke="#4a566c" stroke-width="0.2">+</text>
<text x="450.0" y="285.3" font-size="6.2" text-anchor="middle" font-weight="normal" fill="#6485b2" stroke="#6485b2" stroke-width="0.2">–</text>
<text x="450" y="234.1" font-size="7" text-anchor="middle" font-weight="normal" fill="#000" stroke="#000" stroke-width="0.3">*</text>
<line x1="39.30" y1="433.00" x2="40.50" y2="433.00" stroke="#000" stroke-width="0.7"/>
<text x="37.1" y="435.69166666666666" font-size="7.6" text-anchor="end" font-weight="normal" fill="#0a0a0a" stroke="#0a0a0a" stroke-width="0.18">0</text>
<line x1="40.50" y1="419.17" x2="96.75" y2="419.17" stroke="#ededed" stroke-width="0.8"/>
<line x1="39.30" y1="419.17" x2="40.50" y2="419.17" stroke="#000" stroke-width="0.7"/>
<text x="37.1" y="421.85833333333335" font-size="7.6" text-anchor="end" font-weight="normal" fill="#0a0a0a" stroke="#0a0a0a" stroke-width="0.18">0.7</text>
<line x1="40.50" y1="405.33" x2="96.75" y2="405.33" stroke="#ededed" stroke-width="0.8"/>
<line x1="39.30" y1="405.33" x2="40.50" y2="405.33" stroke="#000" stroke-width="0.7"/>
<text x="37.1" y="408.025" font-size="7.6" text-anchor="end" font-weight="normal" fill="#0a0a0a" stroke="#0a0a0a" stroke-width="0.18">1.4</text>
<line x1="40.50" y1="391.50" x2="96.75" y2="391.50" stroke="#ededed" stroke-width="0.8"/>
<line x1="39.30" y1="391.50" x2="40.50" y2="391.50" stroke="#000" stroke-width="0.7"/>
<text x="37.1" y="394.19166666666666" font-size="7.6" text-anchor="end" font-weight="normal" fill="#0a0a0a" stroke="#0a0a0a" stroke-width="0.18">2.1</text>
<line x1="40.50" y1="377.67" x2="96.75" y2="377.67" stroke="#ededed" stroke-width="0.8"/>
<line x1="39.30" y1="377.67" x2="40.50" y2="377.67" stroke="#000" stroke-width="0.7"/>
<text x="37.1" y="380.35833333333335" font-size="7.6" text-anchor="end" font-weight="normal" fill="#0a0a0a" stroke="#0a0a0a" stroke-width="0.18">2.8</text>
<line x1="40.50" y1="363.83" x2="96.75" y2="363.83" stroke="#ededed" stroke-width="0.8"/>
<line x1="39.30" y1="363.83" x2="40.50" y2="363.83" stroke="#000" stroke-width="0.7"/>
<text x="37.1" y="366.525" font-size="7.6" text-anchor="end" font-weight="normal" fill="#0a0a0a" stroke="#0a0a0a" stroke-width="0.18">3.5</text>
<line x1="40.50" y1="350.00" x2="96.75" y2="350.00" stroke="#ededed" stroke-width="0.8"/>
<line x1="39.30" y1="350.00" x2="40.50" y2="350.00" stroke="#000" stroke-width="0.7"/>
<text x="37.1" y="352.69166666666666" font-size="7.6" text-anchor="end" font-weight="normal" fill="#0a0a0a" stroke="#0a0a0a" stroke-width="0.18">4.2</text>
<line x1="54.62" y1="363.00" x2="54.62" y2="352.70" stroke="#4685c6" stroke-width="1.25"/>
<line x1="53.73" y1="353.00" x2="55.52" y2="353.00" stroke="#4685c6" stroke-width="0.8"/>
<rect x="49.65" y="363.00" width="9.85" height="70.00" fill="#5595d3"/>
<line x1="82.88" y1="404.25" x2="82.88" y2="396.45" stroke="#4685c6" stroke-width="1.25"/>
<line x1="81.97" y1="396.75" x2="83.78" y2="396.75" stroke="#4685c6" stroke-width="0.8"/>
<rect x="77.90" y="404.25" width="9.85" height="28.75" fill="#5595d3"/>
<line x1="40.80" y1="349.50" x2="40.80" y2="433.70" stroke="#000" stroke-width="1.45"/>
<line x1="40.10" y1="433.00" x2="96.75" y2="433.00" stroke="#000" stroke-width="1.4"/>
<text x="70" y="339.6" font-size="7.2" text-anchor="middle" font-weight="normal" fill="#0a0a0a" stroke="#0a0a0a" stroke-width="0.18">U87</text>
<text x="54.625" y="442.7" font-size="6.2" text-anchor="middle" font-weight="normal" fill="#4a566c" stroke="#4a566c" stroke-width="0.2">+</text>
<text x="82.875" y="442.7" font-size="6.2" text-anchor="middle" font-weight="normal" fill="#6485b2" stroke="#6485b2" stroke-width="0.2">–</text>
<text x="83" y="396.7" font-size="7" text-anchor="middle" font-weight="normal" fill="#000" stroke="#000" stroke-width="0.3">*</text>
<text x="25.5" y="442.6" font-size="7.2" text-anchor="start" font-weight="normal" fill="#0a0a0a" stroke="#0a0a0a" stroke-width="0.18">Glc</text>
<text x="12.3" y="391.5" font-size="7.2" text-anchor="middle" font-weight="normal" fill="#0a0a0a" stroke="#0a0a0a" stroke-width="0.18" transform="rotate(-90 12.3 391.5)">Peak area (×10<tspan font-size="4.5" dy="-2.6">6</tspan><tspan dy="2.6">)</tspan></text>
<text x="20.8" y="391.5" font-size="7.2" text-anchor="middle" font-weight="normal" fill="#0a0a0a" stroke="#0a0a0a" stroke-width="0.18" transform="rotate(-90 20.8 391.5)">of PRPP</text>
<line x1="115.05" y1="433.00" x2="116.25" y2="433.00" stroke="#000" stroke-width="0.7"/>
<text x="112.85" y="435.69166666666666" font-size="7.6" text-anchor="end" font-weight="normal" fill="#0a0a0a" stroke="#0a0a0a" stroke-width="0.18">0</text>
<line x1="116.25" y1="419.17" x2="172.50" y2="419.17" stroke="#ededed" stroke-width="0.8"/>
<line x1="115.05" y1="419.17" x2="116.25" y2="419.17" stroke="#000" stroke-width="0.7"/>
<text x="112.85" y="421.85833333333335" font-size="7.6" text-anchor="end" font-weight="normal" fill="#0a0a0a" stroke="#0a0a0a" stroke-width="0.18">5</text>
<line x1="116.25" y1="405.33" x2="172.50" y2="405.33" stroke="#ededed" stroke-width="0.8"/>
<line x1="115.05" y1="405.33" x2="116.25" y2="405.33" stroke="#000" stroke-width="0.7"/>
<text x="112.85" y="408.025" font-size="7.6" text-anchor="end" font-weight="normal" fill="#0a0a0a" stroke="#0a0a0a" stroke-width="0.18">10</text>
<line x1="116.25" y1="391.50" x2="172.50" y2="391.50" stroke="#ededed" stroke-width="0.8"/>
<line x1="115.05" y1="391.50" x2="116.25" y2="391.50" stroke="#000" stroke-width="0.7"/>
<text x="112.85" y="394.19166666666666" font-size="7.6" text-anchor="end" font-weight="normal" fill="#0a0a0a" stroke="#0a0a0a" stroke-width="0.18">15</text>
<line x1="116.25" y1="377.67" x2="172.50" y2="377.67" stroke="#ededed" stroke-width="0.8"/>
<line x1="115.05" y1="377.67" x2="116.25" y2="377.67" stroke="#000" stroke-width="0.7"/>
<text x="112.85" y="380.35833333333335" font-size="7.6" text-anchor="end" font-weight="normal" fill="#0a0a0a" stroke="#0a0a0a" stroke-width="0.18">20</text>
<line x1="116.25" y1="363.83" x2="172.50" y2="363.83" stroke="#ededed" stroke-width="0.8"/>
<line x1="115.05" y1="363.83" x2="116.25" y2="363.83" stroke="#000" stroke-width="0.7"/>
<text x="112.85" y="366.525" font-size="7.6" text-anchor="end" font-weight="normal" fill="#0a0a0a" stroke="#0a0a0a" stroke-width="0.18">25</text>
<line x1="116.25" y1="350.00" x2="172.50" y2="350.00" stroke="#ededed" stroke-width="0.8"/>
<line x1="115.05" y1="350.00" x2="116.25" y2="350.00" stroke="#000" stroke-width="0.7"/>
<text x="112.85" y="352.69166666666666" font-size="7.6" text-anchor="end" font-weight="normal" fill="#0a0a0a" stroke="#0a0a0a" stroke-width="0.18">30</text>
<line x1="130.88" y1="370.00" x2="130.88" y2="357.70" stroke="#4685c6" stroke-width="1.25"/>
<line x1="129.97" y1="358.00" x2="131.78" y2="358.00" stroke="#4685c6" stroke-width="0.8"/>
<rect x="125.90" y="370.00" width="9.85" height="63.00" fill="#5595d3"/>
<line x1="158.75" y1="401.25" x2="158.75" y2="398.95" stroke="#4685c6" stroke-width="1.25"/>
<line x1="157.85" y1="399.25" x2="159.65" y2="399.25" stroke="#4685c6" stroke-width="0.8"/>
<rect x="153.90" y="401.25" width="9.60" height="31.75" fill="#5595d3"/>
<line x1="116.55" y1="349.50" x2="116.55" y2="433.70" stroke="#000" stroke-width="1.45"/>
<line x1="115.85" y1="433.00" x2="172.50" y2="433.00" stroke="#000" stroke-width="1.4"/>
<text x="145" y="339.6" font-size="7.2" text-anchor="middle" font-weight="normal" fill="#0a0a0a" stroke="#0a0a0a" stroke-width="0.18">U251</text>
<text x="130.875" y="442.7" font-size="6.2" text-anchor="middle" font-weight="normal" fill="#4a566c" stroke="#4a566c" stroke-width="0.2">+</text>
<text x="158.75" y="442.7" font-size="6.2" text-anchor="middle" font-weight="normal" fill="#6485b2" stroke="#6485b2" stroke-width="0.2">–</text>
<text x="158.75" y="396.7" font-size="7" text-anchor="middle" font-weight="normal" fill="#000" stroke="#000" stroke-width="0.3">*</text>
<rect x="231.30" y="300.70" width="4.70" height="4.30" fill="#4279be"/>
<rect x="231.30" y="310.40" width="4.70" height="4.30" fill="#c8474a"/>
<text x="239.79999999999998" y="305.3" font-size="7.2" text-anchor="start" font-weight="normal" fill="#0a0a0a" stroke="#0a0a0a" stroke-width="0.18">Hypoxia <tspan fill="#333" stroke="none" font-size="6.4">–</tspan></text>
<text x="239.79999999999998" y="315.0" font-size="7.2" text-anchor="start" font-weight="normal" fill="#0a0a0a" stroke="#0a0a0a" stroke-width="0.18">Hypoxia <tspan fill="#333" stroke="none" font-size="6.4">+</tspan></text>
<line x1="223.80" y1="411.75" x2="225.00" y2="411.75" stroke="#000" stroke-width="0.7"/>
<text x="221.6" y="414.3" font-size="7.2" text-anchor="end" font-weight="normal" fill="#0a0a0a" stroke="#0a0a0a" stroke-width="0.18">0</text>
<line x1="225.00" y1="398.00" x2="310.50" y2="398.00" stroke="#ededed" stroke-width="0.8"/>
<line x1="223.80" y1="398.00" x2="225.00" y2="398.00" stroke="#000" stroke-width="0.7"/>
<text x="221.6" y="400.55" font-size="7.2" text-anchor="end" font-weight="normal" fill="#0a0a0a" stroke="#0a0a0a" stroke-width="0.18">0.2</text>
<line x1="225.00" y1="384.25" x2="310.50" y2="384.25" stroke="#ededed" stroke-width="0.8"/>
<line x1="223.80" y1="384.25" x2="225.00" y2="384.25" stroke="#000" stroke-width="0.7"/>
<text x="221.6" y="386.8" font-size="7.2" text-anchor="end" font-weight="normal" fill="#0a0a0a" stroke="#0a0a0a" stroke-width="0.18">0.4</text>
<line x1="225.00" y1="370.50" x2="310.50" y2="370.50" stroke="#ededed" stroke-width="0.8"/>
<line x1="223.80" y1="370.50" x2="225.00" y2="370.50" stroke="#000" stroke-width="0.7"/>
<text x="221.6" y="373.05" font-size="7.2" text-anchor="end" font-weight="normal" fill="#0a0a0a" stroke="#0a0a0a" stroke-width="0.18">0.6</text>
<line x1="225.00" y1="356.75" x2="310.50" y2="356.75" stroke="#ededed" stroke-width="0.8"/>
<line x1="223.80" y1="356.75" x2="225.00" y2="356.75" stroke="#000" stroke-width="0.7"/>
<text x="221.6" y="359.3" font-size="7.2" text-anchor="end" font-weight="normal" fill="#0a0a0a" stroke="#0a0a0a" stroke-width="0.18">0.8</text>
<line x1="225.00" y1="343.00" x2="310.50" y2="343.00" stroke="#ededed" stroke-width="0.8"/>
<line x1="223.80" y1="343.00" x2="225.00" y2="343.00" stroke="#000" stroke-width="0.7"/>
<text x="221.6" y="345.55" font-size="7.2" text-anchor="end" font-weight="normal" fill="#0a0a0a" stroke="#0a0a0a" stroke-width="0.18">1.0</text>
<line x1="225.00" y1="329.25" x2="310.50" y2="329.25" stroke="#ededed" stroke-width="0.8"/>
<line x1="223.80" y1="329.25" x2="225.00" y2="329.25" stroke="#000" stroke-width="0.7"/>
<text x="221.6" y="331.8" font-size="7.2" text-anchor="end" font-weight="normal" fill="#0a0a0a" stroke="#0a0a0a" stroke-width="0.18">1.2</text>
<line x1="241.50" y1="343.00" x2="241.50" y2="338.95" stroke="#3a6fb4" stroke-width="1.25"/>
<line x1="240.60" y1="339.25" x2="242.40" y2="339.25" stroke="#3a6fb4" stroke-width="0.8"/>
<line x1="252.12" y1="371.75" x2="252.12" y2="366.45" stroke="#b93c40" stroke-width="1.25"/>
<line x1="251.22" y1="366.75" x2="253.03" y2="366.75" stroke="#b93c40" stroke-width="0.8"/>
<rect x="236.25" y="343.00" width="10.50" height="68.75" fill="#4279be"/>
<rect x="246.75" y="371.75" width="10.75" height="40.00" fill="#c8474a"/>
<path d="M241.60 327.40V324.10H252.82V327.40" fill="none" stroke="#000" stroke-width="1.3"/>
<text x="247.41249999999997" y="323.4" font-size="7.2" text-anchor="middle" font-weight="normal" fill="#000" stroke="#000" stroke-width="0.35" letter-spacing="0.4">*</text>
<text x="246.75" y="420.6" font-size="7.2" text-anchor="middle" font-weight="normal" fill="#0a0a0a" stroke="#0a0a0a" stroke-width="0.18">U87</text>
<line x1="284.38" y1="343.00" x2="284.38" y2="335.95" stroke="#3a6fb4" stroke-width="1.25"/>
<line x1="283.48" y1="336.25" x2="285.27" y2="336.25" stroke="#3a6fb4" stroke-width="0.8"/>
<line x1="294.75" y1="365.75" x2="294.75" y2="362.20" stroke="#b93c40" stroke-width="1.25"/>
<line x1="293.85" y1="362.50" x2="295.65" y2="362.50" stroke="#b93c40" stroke-width="0.8"/>
<rect x="279.25" y="343.00" width="10.25" height="68.75" fill="#4279be"/>
<rect x="289.50" y="365.75" width="10.50" height="46.00" fill="#c8474a"/>
<path d="M284.48 327.40V324.10H295.45V327.40" fill="none" stroke="#000" stroke-width="1.3"/>
<text x="290.16249999999997" y="323.4" font-size="7.2" text-anchor="middle" font-weight="normal" fill="#000" stroke="#000" stroke-width="0.35" letter-spacing="0.4">*</text>
<text x="289.5" y="420.6" font-size="7.2" text-anchor="middle" font-weight="normal" fill="#0a0a0a" stroke="#0a0a0a" stroke-width="0.18">U251</text>
<line x1="225.30" y1="328.75" x2="225.30" y2="412.45" stroke="#000" stroke-width="1.45"/>
<line x1="224.60" y1="411.75" x2="310.50" y2="411.75" stroke="#000" stroke-width="1.4"/>
<text x="205" y="370.5" font-size="7.2" text-anchor="middle" font-weight="normal" fill="#0a0a0a" stroke="#0a0a0a" stroke-width="0.18" transform="rotate(-90 205 370.5)">Relative PRPS activity</text>
<rect x="211.10" y="430.20" width="74.90" height="30.10" fill="#c8c8c8"/>
<g filter="url(#bl)">
<rect x="216.50" y="436.70" width="13.10" height="8.00" rx="4.6" ry="4.00" fill="#2b2b2b"/>
<rect x="233.40" y="436.70" width="13.00" height="8.00" rx="4.6" ry="4.00" fill="#2b2b2b"/>
<rect x="251.10" y="437.00" width="12.50" height="7.50" rx="4.6" ry="3.75" fill="#2b2b2b"/>
<rect x="268.00" y="436.90" width="12.90" height="7.60" rx="4.6" ry="3.80" fill="#2b2b2b"/>
<ellipse cx="223.10" cy="453.30" rx="7.00" ry="2.90" fill="#2b2b2b"/>
<rect x="218.60" y="450.40" width="9.00" height="5.80" rx="2" ry="2" fill="#2b2b2b"/>
<ellipse cx="239.80" cy="453.30" rx="7.50" ry="2.90" fill="#2b2b2b"/>
<rect x="234.80" y="450.40" width="10.00" height="5.80" rx="2" ry="2" fill="#2b2b2b"/>
<ellipse cx="257.75" cy="453.40" rx="6.55" ry="2.20" fill="#2b2b2b"/>
<rect x="253.70" y="451.20" width="8.10" height="4.40" rx="2" ry="2" fill="#2b2b2b"/>
<ellipse cx="274.65" cy="453.30" rx="6.65" ry="2.30" fill="#2b2b2b"/>
<rect x="270.50" y="451.00" width="8.30" height="4.60" rx="2" ry="2" fill="#2b2b2b"/>
</g>
<line x1="291.70" y1="440.80" x2="295.80" y2="440.80" stroke="#000" stroke-width="0.9"/>
<path d="M290.20 440.80l2.6 -1.6v3.2z" fill="#000"/>
<text x="299.3" y="443.40000000000003" font-size="7.4" text-anchor="start" font-weight="normal" fill="#0a0a0a" stroke="#0a0a0a" stroke-width="0.18">IgG</text>
<line x1="291.70" y1="453.20" x2="295.80" y2="453.20" stroke="#000" stroke-width="0.9"/>
<path d="M290.20 453.20l2.6 -1.6v3.2z" fill="#000"/>
<text x="299.3" y="455.8" font-size="7.4" text-anchor="start" font-weight="normal" fill="#0a0a0a" stroke="#0a0a0a" stroke-width="0.18">PRPS1/2</text>
<text x="202" y="470.6" font-size="7.3" text-anchor="start" font-weight="normal" fill="#0a0a0a" stroke="#0a0a0a" stroke-width="0.18" xml:space="preserve">IP: PRPS1/2,  WB: PRPS1/2</text>
<line x1="363.05" y1="433.50" x2="364.25" y2="433.50" stroke="#000" stroke-width="0.7"/>
<text x="360.85" y="436.19166666666666" font-size="7.6" text-anchor="end" font-weight="normal" fill="#0a0a0a" stroke="#0a0a0a" stroke-width="0.18">0</text>
<line x1="364.25" y1="416.90" x2="419.75" y2="416.90" stroke="#ededed" stroke-width="0.8"/>
<line x1="363.05" y1="416.90" x2="364.25" y2="416.90" stroke="#000" stroke-width="0.7"/>
<text x="360.85" y="419.59166666666664" font-size="7.6" text-anchor="end" font-weight="normal" fill="#0a0a0a" stroke="#0a0a0a" stroke-width="0.18">1</text>
<line x1="364.25" y1="400.30" x2="419.75" y2="400.30" stroke="#ededed" stroke-width="0.8"/>
<line x1="363.05" y1="400.30" x2="364.25" y2="400.30" stroke="#000" stroke-width="0.7"/>
<text x="360.85" y="402.9916666666667" font-size="7.6" text-anchor="end" font-weight="normal" fill="#0a0a0a" stroke="#0a0a0a" stroke-width="0.18">2</text>
<line x1="364.25" y1="383.70" x2="419.75" y2="383.70" stroke="#ededed" stroke-width="0.8"/>
<line x1="363.05" y1="383.70" x2="364.25" y2="383.70" stroke="#000" stroke-width="0.7"/>
<text x="360.85" y="386.39166666666665" font-size="7.6" text-anchor="end" font-weight="normal" fill="#0a0a0a" stroke="#0a0a0a" stroke-width="0.18">3</text>
<line x1="364.25" y1="367.10" x2="419.75" y2="367.10" stroke="#ededed" stroke-width="0.8"/>
<line x1="363.05" y1="367.10" x2="364.25" y2="367.10" stroke="#000" stroke-width="0.7"/>
<text x="360.85" y="369.7916666666667" font-size="7.6" text-anchor="end" font-weight="normal" fill="#0a0a0a" stroke="#0a0a0a" stroke-width="0.18">4</text>
<line x1="364.25" y1="350.50" x2="419.75" y2="350.50" stroke="#ededed" stroke-width="0.8"/>
<line x1="363.05" y1="350.50" x2="364.25" y2="350.50" stroke="#000" stroke-width="0.7"/>
<text x="360.85" y="353.19166666666666" font-size="7.6" text-anchor="end" font-weight="normal" fill="#0a0a0a" stroke="#0a0a0a" stroke-width="0.18">5</text>
<line x1="377.88" y1="370.75" x2="377.88" y2="350.20" stroke="#4685c6" stroke-width="1.25"/>
<line x1="376.98" y1="350.50" x2="378.77" y2="350.50" stroke="#4685c6" stroke-width="0.8"/>
<rect x="372.90" y="370.75" width="9.85" height="62.75" fill="#5595d3"/>
<line x1="405.88" y1="413.75" x2="405.88" y2="402.20" stroke="#4685c6" stroke-width="1.25"/>
<line x1="404.98" y1="402.50" x2="406.77" y2="402.50" stroke="#4685c6" stroke-width="0.8"/>
<rect x="400.90" y="413.75" width="9.85" height="19.75" fill="#5595d3"/>
<line x1="364.55" y1="350.00" x2="364.55" y2="434.20" stroke="#000" stroke-width="1.45"/>
<line x1="363.85" y1="433.50" x2="419.75" y2="433.50" stroke="#000" stroke-width="1.4"/>
<text x="393.25" y="339.6" font-size="7.2" text-anchor="middle" font-weight="normal" fill="#0a0a0a" stroke="#0a0a0a" stroke-width="0.18">U87</text>
<text x="377.875" y="443.3" font-size="6.2" text-anchor="middle" font-weight="normal" fill="#6485b2" stroke="#6485b2" stroke-width="0.2">–</text>
<text x="405.875" y="443.3" font-size="6.2" text-anchor="middle" font-weight="normal" fill="#4a566c" stroke="#4a566c" stroke-width="0.2">+</text>
<text x="406.25" y="399.7" font-size="7" text-anchor="middle" font-weight="normal" fill="#000" stroke="#000" stroke-width="0.3">*</text>
<text x="333" y="443.2" font-size="7.2" text-anchor="start" font-weight="normal" fill="#0a0a0a" stroke="#0a0a0a" stroke-width="0.18">Hypoxia</text>
<text x="342.3" y="392.5" font-size="7.2" text-anchor="middle" font-weight="normal" fill="#0a0a0a" stroke="#0a0a0a" stroke-width="0.18" transform="rotate(-90 342.3 392.5)">Peak area (×10<tspan font-size="4.5" dy="-2.6">6</tspan><tspan dy="2.6">)</tspan></text>
<text x="350.8" y="392.5" font-size="7.2" text-anchor="middle" font-weight="normal" fill="#0a0a0a" stroke="#0a0a0a" stroke-width="0.18" transform="rotate(-90 350.8 392.5)">of PRPP</text>
<line x1="440.80" y1="433.50" x2="442.00" y2="433.50" stroke="#000" stroke-width="0.7"/>
<text x="438.6" y="436.19166666666666" font-size="7.6" text-anchor="end" font-weight="normal" fill="#0a0a0a" stroke="#0a0a0a" stroke-width="0.18">0</text>
<line x1="442.00" y1="421.64" x2="498.00" y2="421.64" stroke="#ededed" stroke-width="0.8"/>
<line x1="440.80" y1="421.64" x2="442.00" y2="421.64" stroke="#000" stroke-width="0.7"/>
<text x="438.6" y="424.33452380952383" font-size="7.6" text-anchor="end" font-weight="normal" fill="#0a0a0a" stroke="#0a0a0a" stroke-width="0.18">5</text>
<line x1="442.00" y1="409.79" x2="498.00" y2="409.79" stroke="#ededed" stroke-width="0.8"/>
<line x1="440.80" y1="409.79" x2="442.00" y2="409.79" stroke="#000" stroke-width="0.7"/>
<text x="438.6" y="412.47738095238094" font-size="7.6" text-anchor="end" font-weight="normal" fill="#0a0a0a" stroke="#0a0a0a" stroke-width="0.18">10</text>
<line x1="442.00" y1="397.93" x2="498.00" y2="397.93" stroke="#ededed" stroke-width="0.8"/>
<line x1="440.80" y1="397.93" x2="442.00" y2="397.93" stroke="#000" stroke-width="0.7"/>
<text x="438.6" y="400.6202380952381" font-size="7.6" text-anchor="end" font-weight="normal" fill="#0a0a0a" stroke="#0a0a0a" stroke-width="0.18">15</text>
<line x1="442.00" y1="386.07" x2="498.00" y2="386.07" stroke="#ededed" stroke-width="0.8"/>
<line x1="440.80" y1="386.07" x2="442.00" y2="386.07" stroke="#000" stroke-width="0.7"/>
<text x="438.6" y="388.7630952380952" font-size="7.6" text-anchor="end" font-weight="normal" fill="#0a0a0a" stroke="#0a0a0a" stroke-width="0.18">20</text>
<line x1="442.00" y1="374.21" x2="498.00" y2="374.21" stroke="#ededed" stroke-width="0.8"/>
<line x1="440.80" y1="374.21" x2="442.00" y2="374.21" stroke="#000" stroke-width="0.7"/>
<text x="438.6" y="376.9059523809524" font-size="7.6" text-anchor="end" font-weight="normal" fill="#0a0a0a" stroke="#0a0a0a" stroke-width="0.18">25</text>
<line x1="442.00" y1="362.36" x2="498.00" y2="362.36" stroke="#ededed" stroke-width="0.8"/>
<line x1="440.80" y1="362.36" x2="442.00" y2="362.36" stroke="#000" stroke-width="0.7"/>
<text x="438.6" y="365.04880952380955" font-size="7.6" text-anchor="end" font-weight="normal" fill="#0a0a0a" stroke="#0a0a0a" stroke-width="0.18">30</text>
<line x1="442.00" y1="350.50" x2="498.00" y2="350.50" stroke="#ededed" stroke-width="0.8"/>
<line x1="440.80" y1="350.50" x2="442.00" y2="350.50" stroke="#000" stroke-width="0.7"/>
<text x="438.6" y="353.19166666666666" font-size="7.6" text-anchor="end" font-weight="normal" fill="#0a0a0a" stroke="#0a0a0a" stroke-width="0.18">35</text>
<line x1="456.25" y1="373.25" x2="456.25" y2="361.45" stroke="#4685c6" stroke-width="1.25"/>
<line x1="455.35" y1="361.75" x2="457.15" y2="361.75" stroke="#4685c6" stroke-width="0.8"/>
<rect x="451.40" y="373.25" width="9.60" height="60.25" fill="#5595d3"/>
<line x1="484.62" y1="399.25" x2="484.62" y2="392.70" stroke="#4685c6" stroke-width="1.25"/>
<line x1="483.73" y1="393.00" x2="485.52" y2="393.00" stroke="#4685c6" stroke-width="0.8"/>
<rect x="479.65" y="399.25" width="9.85" height="34.25" fill="#5595d3"/>
<line x1="442.30" y1="350.00" x2="442.30" y2="434.20" stroke="#000" stroke-width="1.45"/>
<line x1="441.60" y1="433.50" x2="498.00" y2="433.50" stroke="#000" stroke-width="1.4"/>
<text x="471.25" y="339.9" font-size="7.2" text-anchor="middle" font-weight="normal" fill="#0a0a0a" stroke="#0a0a0a" stroke-width="0.18">U251</text>
<text x="456.25" y="443.3" font-size="6.2" text-anchor="middle" font-weight="normal" fill="#6485b2" stroke="#6485b2" stroke-width="0.2">–</text>
<text x="484.625" y="443.3" font-size="6.2" text-anchor="middle" font-weight="normal" fill="#4a566c" stroke="#4a566c" stroke-width="0.2">+</text>
<text x="484.4" y="391.2" font-size="7" text-anchor="middle" font-weight="normal" fill="#000" stroke="#000" stroke-width="0.3">*</text>
</g>
</svg>
</body></html>
